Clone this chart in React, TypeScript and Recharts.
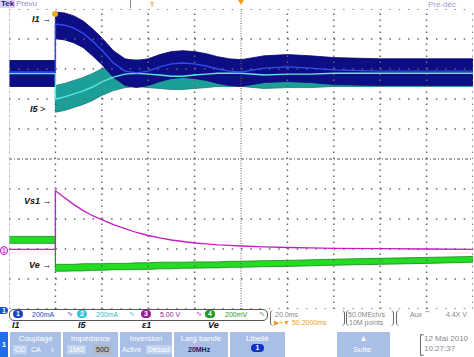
import { ComposedChart, Area, Line, XAxis, YAxis, ReferenceLine } from 'recharts';
import type { CSSProperties, ReactNode } from 'react';

// time base: 20 ms/div, trigger at t = 0 (sample repeated to draw the step)
const timeMs = [-20, 0, 0, 4, 8, 12, 16, 20, 25, 30, 35, 40, 45, 50, 55, 60, 65, 70, 75, 80, 90, 100, 110, 120, 140, 160, 180];
const timeTicks = [-20, 0, 20, 40, 60, 100, 120, 140, 160, 180];
const divTicks = [-5, -4, -3, -2, -1, 1, 2, 3, 4, 5];

// vertical values in screen divisions (0 = centre line)
const i1Hi = [3.28, 3.28, 4.9, 4.87, 4.77, 4.6, 4.34, 4.04, 3.61, 3.34, 3.28, 3.34, 3.48, 3.58, 3.61, 3.58, 3.51, 3.41, 3.34, 3.31, 3.44, 3.48, 3.44, 3.38, 3.34, 3.34, 3.34];
const i1Lo = [2.42, 2.42, 4.01, 3.97, 3.87, 3.71, 3.44, 3.15, 2.72, 2.45, 2.38, 2.45, 2.58, 2.68, 2.72, 2.68, 2.62, 2.52, 2.45, 2.42, 2.55, 2.58, 2.55, 2.48, 2.45, 2.45, 2.45];
const i1Mid = [2.9, 2.9, 4.5, 4.46, 4.36, 4.19, 3.93, 3.63, 3.2, 2.93, 2.87, 2.93, 3.07, 3.17, 3.2, 3.17, 3.1, 3.0, 2.93, 2.9, 3.03, 3.07, 3.03, 2.97, 2.93, 2.93, 2.93];

const i5Hi = [3.28, 3.28, 2.45, 2.52, 2.62, 2.72, 2.85, 3.01, 3.18, 3.28, 3.31, 3.28, 3.25, 3.21, 3.21, 3.25, 3.28, 3.31, 3.31, 3.31, 3.25, 3.28, 3.28, 3.31, 3.31, 3.31, 3.31];
const i5Lo = [2.42, 2.42, 1.56, 1.62, 1.72, 1.82, 1.95, 2.12, 2.28, 2.38, 2.42, 2.38, 2.35, 2.32, 2.32, 2.35, 2.38, 2.42, 2.42, 2.42, 2.35, 2.38, 2.38, 2.42, 2.42, 2.42, 2.42];
const i5Mid = [2.85, 2.85, 2.0, 2.07, 2.17, 2.27, 2.4, 2.57, 2.73, 2.83, 2.86, 2.83, 2.8, 2.76, 2.76, 2.8, 2.83, 2.86, 2.86, 2.86, 2.8, 2.83, 2.83, 2.86, 2.86, 2.86, 2.86];

const vs1 = [-3.01, -3.01, -1.06, -1.29, -1.52, -1.72, -1.89, -2.02, -2.19, -2.32, -2.45, -2.55, -2.63, -2.7, -2.75, -2.8, -2.83, -2.86, -2.88, -2.9, -2.93, -2.95, -2.96, -2.98, -2.99, -3.0, -3.01];

const veHi = [-2.58, -2.58, -3.51, -3.51, -3.51, -3.49, -3.49, -3.49, -3.48, -3.48, -3.46, -3.46, -3.44, -3.44, -3.44, -3.43, -3.43, -3.43, -3.41, -3.41, -3.39, -3.38, -3.36, -3.34, -3.31, -3.28, -3.25];
const veLo = [-2.81, -2.81, -3.74, -3.74, -3.73, -3.73, -3.71, -3.71, -3.69, -3.69, -3.68, -3.68, -3.66, -3.66, -3.64, -3.64, -3.63, -3.63, -3.61, -3.61, -3.59, -3.58, -3.56, -3.54, -3.51, -3.48, -3.44];

const rows = timeMs.map((t, i) => ({
  t,
  i1: [i1Lo[i], i1Hi[i]],
  i1m: i1Mid[i],
  i5: [i5Lo[i], i5Hi[i]],
  i5m: i5Mid[i],
  vs1: vs1[i],
  ve: [veLo[i], veHi[i]],
}));

const SANS = '"Liberation Sans", Arial, sans-serif';

function Txt({ x, y, children, style }: { x: number; y: number; children: ReactNode; style?: CSSProperties }) {
  return (
    <div style={{ position: 'absolute', left: x, top: y, whiteSpace: 'nowrap', lineHeight: 1, ...style }}>{children}</div>
  );
}

function Chip({ x, y, n, bg }: { x: number; y: number; n: string; bg: string }) {
  return (
    <div
      style={{
        position: 'absolute', left: x, top: y, width: 10, height: 8, borderRadius: 4, background: bg,
        color: '#fff', fontSize: 7, fontWeight: 700, lineHeight: '8px', textAlign: 'center',
      }}
    >
      {n}
    </div>
  );
}

const label: CSSProperties = { fontFamily: SANS, fontSize: 9, fontWeight: 700, fontStyle: 'italic', color: '#111' };

const buttons = [
  { x: 10, w: 51, title: 'Couplage' },
  { x: 63, w: 55, title: 'Impédance' },
  { x: 120, w: 52, title: 'Inversion' },
  { x: 174, w: 54, title: 'Larg bande' },
  { x: 230, w: 55, title: 'Libellé' },
  { x: 337, w: 53, title: '▲' },
];

export default function App() {
  return (
    <div style={{ position: 'fixed', left: 0, top: 0, width: 474, height: 357, background: '#fff', overflow: 'hidden', fontFamily: SANS }}>
      <div style={{ position: 'absolute', left: 9, top: 9 }}>
        <ComposedChart width={464} height={300} data={rows} margin={{ top: 0, right: 0, bottom: 0, left: 0 }}>
          <XAxis type="number" dataKey="t" domain={[-20, 180]} hide />
          <YAxis type="number" domain={[-5, 5]} hide />
          {/* dotted graticule */}
          {divTicks.map((d) => (
            <ReferenceLine key={'h' + d} y={d} stroke="#666" strokeWidth={1.5} strokeDasharray="1.5 7.78" ifOverflow="extendDomain" />
          ))}
          {timeTicks.map((t) => (
            <ReferenceLine key={'v' + t} x={t} stroke="#666" strokeWidth={1.5} strokeDasharray="1.5 4.5" ifOverflow="extendDomain" />
          ))}
          <ReferenceLine y={0} stroke="#555" strokeDasharray="3 2 1 2" />
          <ReferenceLine x={80} stroke="#666" strokeDasharray="1 1.5" />
          <ReferenceLine x={-20} stroke="#c6cbe6" />

          <Area type="linear" dataKey="i5" fill="#1c9f98" fillOpacity={1} stroke="#137c78" strokeWidth={0.8} isAnimationActive={false} />
          <Line type="linear" dataKey="i5m" stroke="#5ee6dc" strokeWidth={1.4} dot={false} isAnimationActive={false} />
          <Area type="linear" dataKey="i1" fill="#0d0d85" fillOpacity={1} stroke="#0a0a6e" strokeWidth={0.8} isAnimationActive={false} />
          <Line type="linear" dataKey="i1m" stroke="#2f4ef0" strokeWidth={1.4} dot={false} isAnimationActive={false} />
          <Area type="linear" dataKey="ve" fill="#25dc25" fillOpacity={1} stroke="#0f8a10" strokeWidth={0.8} isAnimationActive={false} />
          <Line type="linear" dataKey="vs1" stroke="#c21fc2" strokeWidth={1.3} dot={false} isAnimationActive={false} />
        </ComposedChart>
      </div>

      {/* top bar */}
      <Txt x={0} y={0} style={{ fontSize: 8, fontWeight: 700, color: '#1b1b7e', background: '#d6d6f4', padding: '0 1px' }}>Tek</Txt>
      <Txt x={16} y={0} style={{ fontSize: 8, color: '#8a8ad6' }}>Prevu</Txt>
      <div style={{ position: 'absolute', left: 130, top: 0, width: 1, height: 8, background: '#888' }} />
      <Txt x={150} y={1} style={{ fontSize: 7, fontWeight: 700, color: '#f0a020' }}>T</Txt>
      <div style={{ position: 'absolute', left: 238, top: 0, width: 0, height: 0, borderLeft: '3px solid transparent', borderRight: '3px solid transparent', borderTop: '5px solid #f0a020' }} />
      <Txt x={428} y={1} style={{ fontSize: 8, color: '#9a9ad8' }}>Pré-déc</Txt>
      <div style={{ position: 'absolute', left: 52, top: 11, width: 6, height: 6, borderRadius: 3, background: '#f3a52a' }} />

      {/* trace labels */}
      <Txt x={32} y={15} style={label}>I1 <span style={{ fontStyle: 'normal', fontWeight: 400 }}>→</span></Txt>
      <Txt x={30} y={105} style={label}>I5 <span style={{ fontStyle: 'normal', fontWeight: 400 }}>&gt;</span></Txt>
      <Txt x={24} y={197} style={label}>Vs1 <span style={{ fontStyle: 'normal', fontWeight: 400 }}>→</span></Txt>
      <Txt x={29} y={261} style={label}>Ve <span style={{ fontStyle: 'normal', fontWeight: 400 }}>→</span></Txt>

      {/* ground markers */}
      <Txt x={0} y={246} style={{ fontSize: 7, color: '#c21fc2', border: '1px solid #c21fc2', borderRadius: 4, padding: '0 1px', background: '#f6dcf6' }}>1</Txt>
      <Txt x={0} y={307} style={{ fontSize: 7, fontWeight: 700, color: '#fff', background: '#1e4fd8', borderRadius: '0 5px 5px 0', padding: '0 2px' }}>1</Txt>

      {/* channel status row */}
      <div style={{ position: 'absolute', left: 9, top: 309, width: 257, height: 10, border: '1px solid #555', borderRadius: 5 }} />
      <Chip x={13} y={310} n="1" bg="#1e3fc8" />
      <Txt x={32} y={311} style={{ fontSize: 7, color: '#2a3fc0' }}>200mA</Txt>
      <Txt x={67} y={310} style={{ fontSize: 7, color: '#2a3fc0' }}>∿</Txt>
      <Chip x={77} y={310} n="2" bg="#35c6d8" />
      <Txt x={96} y={311} style={{ fontSize: 7, color: '#35b8c8' }}>200mA</Txt>
      <Txt x={129} y={310} style={{ fontSize: 7, color: '#35b8c8' }}>∿</Txt>
      <Chip x={141} y={310} n="3" bg="#9a1a9a" />
      <Txt x={160} y={311} style={{ fontSize: 7, color: '#9a1a9a' }}>5.00 V</Txt>
      <Txt x={196} y={310} style={{ fontSize: 7, color: '#9a1a9a' }}>∿</Txt>
      <Chip x={205} y={310} n="4" bg="#1e9a1e" />
      <Txt x={225} y={311} style={{ fontSize: 7, color: '#1e9a1e' }}>200mV</Txt>
      <Txt x={259} y={310} style={{ fontSize: 7, color: '#1e9a1e' }}>∿</Txt>

      <div style={{ position: 'absolute', left: 270, top: 310, width: 73, height: 16, borderLeft: '1px solid #666', borderRight: '1px solid #666', borderRadius: 4 }} />
      <Txt x={275} y={311} style={{ fontSize: 7, color: '#888' }}>20.0ms</Txt>
      <Txt x={274} y={319} style={{ fontSize: 7, color: '#e8a020' }}>▶+▼ 50.2000ms</Txt>
      <div style={{ position: 'absolute', left: 346, top: 310, width: 46, height: 16, borderLeft: '1px solid #666', borderRight: '1px solid #666', borderRadius: 4 }} />
      <Txt x={348} y={311} style={{ fontSize: 7, color: '#888' }}>50.0MEch/s</Txt>
      <Txt x={349} y={319} style={{ fontSize: 7, color: '#888' }}>10M points</Txt>
      <div style={{ position: 'absolute', left: 396, top: 310, width: 80, height: 16, borderLeft: '1px solid #666', borderRadius: 4 }} />
      <Txt x={410} y={311} style={{ fontSize: 7, color: '#888' }}>Aux ⌒</Txt>
      <Txt x={446} y={311} style={{ fontSize: 7, color: '#888' }}>4.4X V</Txt>

      {/* channel names */}
      <Txt x={12} y={321} style={label}>I1</Txt>
      <Txt x={78} y={321} style={label}>I5</Txt>
      <Txt x={142} y={321} style={label}>ε1</Txt>
      <Txt x={208} y={321} style={label}>Ve</Txt>

      {/* menu */}
      <div style={{ position: 'absolute', left: 0, top: 332, width: 8, height: 25, background: '#1f6fe8', color: '#fff', fontSize: 8, fontWeight: 700, textAlign: 'center', lineHeight: '25px' }}>1</div>
      {buttons.map((b) => (
        <div key={b.title} style={{ position: 'absolute', left: b.x, top: 332, width: b.w, height: 25, background: '#a9bfe6' }}>
          <div style={{ textAlign: 'center', fontSize: 8, color: '#fff', marginTop: 2 }}>{b.title}</div>
        </div>
      ))}
      <Txt x={13} y={345} style={{ fontSize: 7, color: '#fff', background: '#c2d3f0', padding: '1px 2px' }}>CC</Txt>
      <Txt x={31} y={346} style={{ fontSize: 7, color: '#fff' }}>CA</Txt>
      <Txt x={50} y={346} style={{ fontSize: 7, color: '#fff' }}>⏚</Txt>
      <Txt x={67} y={345} style={{ fontSize: 7, color: '#fff', background: '#c2d3f0', padding: '1px 2px' }}>1MΩ</Txt>
      <Txt x={94} y={345} style={{ fontSize: 7, color: '#333', background: '#b5b5b5', padding: '1px 2px' }}>50Ω</Txt>
      <Txt x={121} y={345} style={{ fontSize: 7, color: '#fff', padding: '1px 1px' }}>Active</Txt>
      <Txt x={146} y={345} style={{ fontSize: 7, color: '#fff', background: '#c2d3f0', padding: '1px 2px' }}>Désact</Txt>
      <Txt x={188} y={346} style={{ fontSize: 7, fontWeight: 700, color: '#1a1a50' }}>20MHz</Txt>
      <div style={{ position: 'absolute', left: 251, top: 344, width: 13, height: 8, borderRadius: 4, background: '#1030c8', color: '#fff', fontSize: 7, fontWeight: 700, textAlign: 'center', lineHeight: '8px' }}>1</div>
      <Txt x={353} y={346} style={{ fontSize: 8, color: '#fff' }}>Suite</Txt>

      <div style={{ position: 'absolute', left: 420, top: 334, width: 3, height: 20, borderLeft: '1px solid #666', borderTop: '1px solid #666', borderBottom: '1px solid #666', borderRadius: 3 }} />
      <Txt x={424} y={335} style={{ fontSize: 8, color: '#888' }}>12 Mai 2010</Txt>
      <Txt x={424} y={345} style={{ fontSize: 8, color: '#888' }}>10:27:37</Txt>
    </div>
  );
}
